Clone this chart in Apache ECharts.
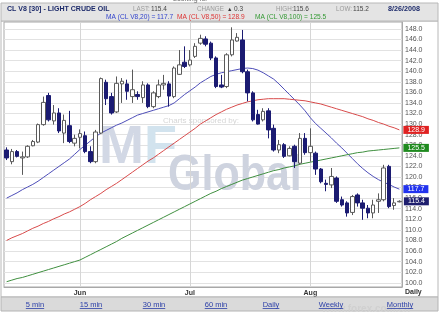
<!DOCTYPE html>
<html><head><meta charset="utf-8">
<script src="https://cdn.jsdelivr.net/npm/echarts@6/dist/echarts.min.js"></script>
<style>html,body{margin:0;padding:0;background:#fff}#c{width:440px;height:315px}</style>
</head><body><div id="c"></div>
<script>
// ---- data ----
const dates = [
'5/12','5/13','5/14','5/15','5/16','5/19','5/20','5/21','5/22','5/23','5/27','5/28','5/29','5/30',
'6/2','6/3','6/4','6/5','6/6','6/9','6/10','6/11','6/12','6/13','6/16','6/17','6/18','6/19','6/20','6/23','6/24','6/25','6/26','6/27','6/30',
'7/1','7/2','7/3','7/4','7/7','7/8','7/9','7/10','7/11','7/14','7/15','7/16','7/17','7/18','7/21','7/22','7/23','7/24','7/25','7/28','7/29','7/30','7/31',
'8/1','8/4','8/5','8/6','8/7','8/8','8/11','8/12','8/13','8/14','8/15','8/18','8/19','8/20','8/21','8/22','8/25','8/26'];
const opens  = [125.1,122.9,124.8,123.6,123.8,125.9,126.6,129.9,135.4,130.6,132.1,128.3,129.7,126.4,127.5,127.8,124.8,122.9,128.3,137.9,135.2,132.3,137.6,137.6,135.2,135.6,135.0,137.4,133.3,135.2,137.4,137.6,135.2,139.4,141.7,141.2,142.8,145.3,146.1,145.3,142.5,137.4,137.1,143.1,145.7,145.9,139.9,135.9,131.8,130.8,132.5,129.2,125.1,126.1,124.0,125.8,122.6,127.3,124.6,124.5,121.5,118.8,118.5,119.8,115.7,115.1,113.3,116.6,115.1,114.1,113.2,115.4,115.7,122.0,114.6,115.3];
const closes = [123.6,124.8,123.9,123.8,125.8,126.7,129.9,134.1,130.8,132.1,128.7,130.7,126.7,127.3,128.2,124.8,122.9,128.5,138.6,134.8,132.1,137.7,138.1,136.2,136.5,135.2,137.4,133.3,135.9,137.4,137.7,135.3,140.6,141.2,140.9,142.1,144.7,146.2,145.1,142.5,137.1,137.0,143.1,145.9,146.4,139.9,135.9,130.8,130.0,132.4,128.9,125.1,126.1,123.9,125.4,122.9,127.3,124.6,125.8,121.5,119.1,118.6,120.1,115.4,114.7,113.2,116.3,115.1,114.1,113.2,114.7,115.7,121.7,114.4,115.1,115.4];
const lows   = [123.2,122.4,123.7,120.4,123.6,125.8,126.4,129.7,130.5,129.9,128.3,126.4,126.4,125.8,125.4,124.5,122.6,122.6,128.1,133.6,131.8,132.1,134.0,134.6,134.0,134.6,134.0,133.0,133.0,134.9,136.5,133.3,134.9,139.3,140.6,140.9,142.5,145.0,144.7,142.1,136.8,136.8,136.8,142.8,145.6,139.6,134.3,130.5,129.9,130.5,127.3,124.8,124.5,123.6,123.9,121.7,122.3,124.2,122.9,120.4,118.8,117.3,117.9,115.1,114.4,112.5,112.8,114.4,111.9,112.2,112.2,113.2,115.4,114.1,113.8,115.2];
const highs  = [125.6,125.3,125.1,124.8,126.0,127.0,130.1,135.2,135.9,133.6,133.0,131.8,132.5,128.0,129.0,128.6,125.8,128.9,138.8,138.4,135.9,139.0,138.7,138.4,140.3,136.2,138.1,137.7,136.2,138.4,139.3,138.1,140.9,144.0,144.7,144.0,145.3,146.9,146.6,145.6,142.8,139.3,143.4,148.3,147.2,147.8,140.3,136.2,132.7,133.0,133.0,129.9,127.0,126.4,125.8,126.1,128.3,128.3,129.2,124.8,121.7,119.5,121.7,120.1,116.3,115.4,116.6,116.9,115.7,114.7,115.7,116.9,122.3,122.3,116.0,115.6];
const ma20  = [116.0,116.5,117.0,117.6,118.1,118.6,119.2,119.9,120.6,121.3,122.0,122.7,123.4,124.3,125.2,126.0,126.8,127.6,128.3,128.8,129.3,129.8,130.2,130.7,131.2,131.7,132.0,132.3,132.6,132.9,133.2,133.5,134.0,134.8,135.6,136.3,137.0,137.8,138.4,139.0,139.4,139.7,139.9,140.1,140.3,140.5,140.6,140.5,140.2,139.7,139.1,138.5,137.6,136.6,135.6,134.6,133.6,132.5,131.2,130.1,129.2,128.3,127.4,126.4,125.5,124.5,123.5,122.5,121.6,120.8,120.1,119.5,119.0,118.6,118.1,117.7];
const ma50  = [108.0,108.5,108.9,109.3,109.8,110.3,110.7,111.2,111.6,112.1,112.5,113.0,113.4,113.9,114.4,115.0,115.7,116.3,116.9,117.6,118.2,118.8,119.5,120.2,120.9,121.6,122.3,123.0,123.6,124.3,125.0,125.7,126.4,127.1,127.8,128.5,129.2,130.0,130.6,131.2,131.8,132.3,132.8,133.2,133.6,133.9,134.2,134.4,134.6,134.7,134.8,134.8,134.8,134.8,134.7,134.6,134.5,134.4,134.2,134.0,133.8,133.5,133.2,132.9,132.6,132.3,132.0,131.7,131.4,131.0,130.7,130.3,130.0,129.6,129.3,128.9];
const ma100 = [100.2,100.5,100.8,101.0,101.3,101.6,101.9,102.2,102.5,102.8,103.1,103.4,103.7,104.0,104.3,104.8,105.3,105.8,106.3,106.8,107.3,107.8,108.4,108.9,109.4,109.9,110.4,110.9,111.4,111.9,112.4,112.9,113.4,113.9,114.4,114.9,115.4,115.9,116.4,116.9,117.3,117.8,118.2,118.6,119.0,119.4,119.7,120.0,120.3,120.6,120.9,121.2,121.4,121.7,121.9,122.1,122.4,122.6,122.8,123.0,123.2,123.4,123.6,123.8,124.0,124.2,124.4,124.6,124.7,124.9,125.0,125.1,125.2,125.3,125.4,125.5];
const yTicks = [100,102,104,106,108,110,112,114,116,118,120,122,124,126,128,130,132,134,136,138,140,142,144,146,148];
const monthStarts = ['6/2','7/1','8/1'];
const monthNames  = ['Jun','Jul','Aug'];
const links = ['5 min','15 min','30 min','60 min','Daily','Weekly','Monthly'];
const linkCenters = [35,91,154,216,271,331,400];

// ---- chart ----
const FONT = 'Liberation Sans, Arial, sans-serif';
const mctx = document.createElement('canvas').getContext('2d');
function tw(t, size, weight){ mctx.font = (weight||'normal')+' '+size+'px '+FONT; return mctx.measureText(t).width; }
const N = dates.length;
const candleData = dates.map((d,i)=>[opens[i],closes[i],lows[i],highs[i]]);
const monthMap = {}; monthStarts.forEach((d,i)=>monthMap[d]=monthNames[i]);

function txt(x,y,t,size,color,weight,extra){
  return Object.assign({type:'text', x:x, y:y, z:20, silent:true,
    style:{text:t, fill:color, font:(weight||'normal')+' '+size+'px '+FONT, textVerticalAlign:'middle', verticalAlign:'middle'}}, extra||{});
}

const graphics = [
  // header background
  {type:'rect', z:15, silent:true, shape:{x:1,y:3,width:437,height:18}, style:{fill:'#e4e4e4', stroke:'#b8b8b8', lineWidth:1}},
  txt(173,-1,'Looking for',7,'#666'),
  txt(7,9,'CL V8 [30] - LIGHT CRUDE OIL',8,'#1d2b6b','bold',{scaleX:0.88}),
  txt(133,9,'LAST:',6.3,'#9a9a9a'), txt(151,9,'115.4',6.5,'#444'),
  txt(197,9,'CHANGE',6.3,'#9a9a9a'), txt(227,9,'\u25B2',5.5,'#333'), txt(234,9,'0.3',6.5,'#444'),
  txt(276,9,'HIGH:',6.3,'#9a9a9a'), txt(293,9,'115.6',6.5,'#444'),
  txt(336,9,'LOW:',6.3,'#9a9a9a'), txt(353,9,'115.2',6.5,'#444'),
  txt(388,9,'8/26/2008',8,'#1d2b6b','bold',{scaleX:0.9}),
  txt(106,17,'MA (CL V8,20) = 117.7',6.6,'#3344cc'),
  txt(177,17,'MA (CL V8,50) = 128.9',6.6,'#dd3333'),
  txt(255,17,'MA (CL V8,100) = 125.5',6.6,'#339933'),
  // outer frame of chart area
  {type:'rect', z:0, silent:true, shape:{x:1,y:21,width:437,height:276}, style:{fill:'none', stroke:'#b8b8b8', lineWidth:1}},
  // footer bar
  {type:'rect', z:15, silent:true, shape:{x:1,y:297,width:437,height:14}, style:{fill:'#dadada', stroke:'#b4b4b4', lineWidth:1}},
  txt(405,292.5,'Daily',7,'#333','bold'),
  // watermark
  txt(163,121,'Charts sponsored by:',8,'#d6d6d6','normal',{z:1}),
  txt(99,148,'M',54,'#d2d8e5','bold',{z:1}),
  txt(144,148,'F',54,'#d2e3ee','bold',{z:1}),
  txt(168,176,'Global',50,'#ced3df','bold',{z:1, scaleX:0.86}),
  txt(322,309,'www.forex.com.cn',10,'#d0d0d0','bold',{z:16})
];
links.forEach((l,i)=>{
  const w = tw(l,7.5);
  const x0 = linkCenters[i]-w/2;
  graphics.push(txt(x0,304.5,l,7.5,'#2b3fa8'));
  graphics.push({type:'line', z:20, silent:true, shape:{x1:x0,y1:308.5,x2:x0+w,y2:308.5}, style:{stroke:'#2b3fa8', lineWidth:0.8}});
});

function maSeries(name, data, color, boxColor){
  return {name:name, type:'line', data:data, symbol:'none', z:3,
    lineStyle:{width:1, color:color},
    endLabel:{show:true, formatter:()=>data[data.length-1].toFixed(1), color:'#fff', backgroundColor:boxColor,
      fontSize:7, fontFamily:FONT, padding:[1,4,0,4], distance:4}};
}

const chart = echarts.init(document.getElementById('c'), null, {width:440, height:315});
chart.setOption({
  animation:false,
  textStyle:{fontFamily:FONT},
  grid:{left:4, right:38, top:22, bottom:28, show:true, borderColor:'#a8a8a8', borderWidth:1, backgroundColor:'transparent'},
  xAxis:{type:'category', data:dates, boundaryGap:true,
    axisLine:{show:true, lineStyle:{color:'#a8a8a8'}}, axisTick:{show:false},
    axisLabel:{interval:(i,v)=>monthMap[v]!==undefined, formatter:(v)=>monthMap[v]||'', fontSize:7, color:'#333', fontWeight:'bold', margin:3},
    splitLine:{show:false}},
  yAxis:{type:'value', position:'right', min:99.2, max:149.3, scale:true,
    axisLine:{show:true, lineStyle:{color:'#a8a8a8'}},
    axisTick:{show:false, customValues:yTicks},
    axisLabel:{customValues:yTicks, formatter:(v)=>Number(v).toFixed(1), fontSize:7, color:'#555', margin:3},
    splitLine:{show:true, lineStyle:{color:'#e2e2e2', width:1}}},
  graphic:graphics,
  series:[
    {type:'candlestick', data:candleData, barWidth:4, z:4,
      itemStyle:{color:'#ffffff', color0:'#1b1b72', borderColor:'#5a5a5a', borderColor0:'#1b1b72', borderWidth:1},
      markLine:{silent:true, symbol:['none','none'], label:{show:false}, z:1,
        lineStyle:{color:'#d6d6d6', type:'solid', width:1},
        data:monthStarts.map(d=>({xAxis:d}))},
      markPoint:{silent:true, symbol:'rect', symbolSize:[25,8], symbolOffset:[17,0],
        itemStyle:{color:'#1e1e6e'},
        label:{show:true, position:'inside', color:'#fff', fontSize:7, fontFamily:FONT, formatter:(p)=>Number(p.value).toFixed(1)},
        data:[{coord:[dates[N-1], closes[N-1]], value:closes[N-1]}]}},
    maSeries('MA20', ma20, '#4d4db8', '#2233ee'),
    maSeries('MA50', ma50, '#d84a4a', '#e02222'),
    maSeries('MA100', ma100, '#3f8f3f', '#1e8a1e')
  ]
});
</script></body></html>
